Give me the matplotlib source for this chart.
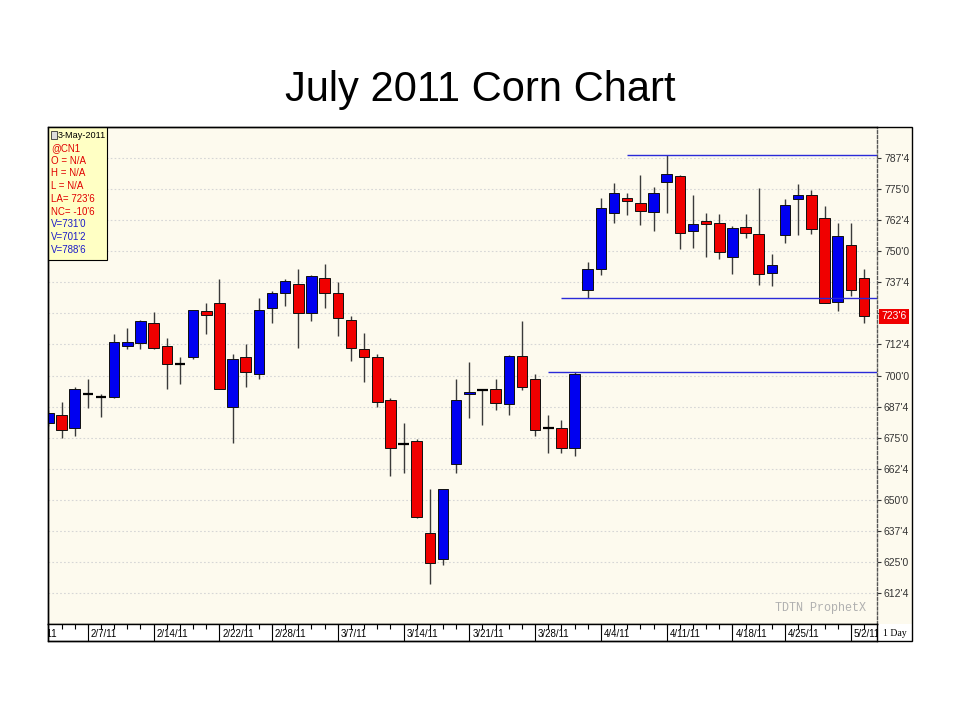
import matplotlib
matplotlib.use("Agg")
import matplotlib.pyplot as plt
import matplotlib.transforms as mtransforms
from matplotlib.patches import Rectangle
from matplotlib.ticker import FuncFormatter
import numpy as np
import pandas as pd

# trading days (exchange closed 2/21 and 4/22); 1/31 and 2/1 sit left of the visible area
holidays = ['2011-02-21', '2011-04-22']
first_visible = 2

opens = [680.75, 684.0, 679.0, 692.5, 691.5, 691.25, 712.0, 713.25, 721.0, 712.0,
         704.5, 707.25, 726.0, 729.0, 687.5, 707.5, 700.75, 727.25, 733.0, 737.0,
         725.0, 739.25, 733.25, 722.5, 710.75, 707.25, 690.0, 672.25, 673.5, 636.5,
         626.0, 664.25, 692.5, 694.0, 694.75, 688.5, 708.0, 698.75, 678.75, 679.0,
         671.0, 734.5, 743.0, 765.5, 771.5, 769.5, 765.75, 778.0, 780.25, 758.25,
         762.25, 761.5, 747.75, 759.75, 757.0, 741.25, 756.5, 771.0, 772.75, 763.5,
         729.75, 752.5, 739.25]
highs = [686.0, 689.25, 695.25, 698.75, 692.75, 716.5, 719.0, 722.25, 725.75, 715.25,
         707.5, 726.5, 729.25, 739.0, 708.75, 712.75, 731.0, 734.0, 739.0, 743.0,
         740.25, 745.0, 737.75, 724.0, 717.25, 708.75, 690.75, 681.0, 674.25, 654.5,
         654.5, 698.75, 705.25, 694.75, 698.75, 708.25, 722.0, 700.5, 684.0, 682.0,
         701.25, 745.75, 771.5, 777.5, 773.5, 780.75, 776.0, 788.75, 780.5, 772.75,
         765.5, 765.0, 760.25, 765.0, 775.5, 749.0, 771.0, 777.0, 774.75, 768.25,
         761.5, 761.5, 743.0]
lows = [679.5, 674.75, 675.5, 686.75, 683.5, 690.75, 710.5, 710.5, 710.75, 694.5,
        696.5, 706.5, 716.5, 694.5, 672.75, 695.25, 698.75, 721.0, 728.0, 711.25,
        722.0, 727.25, 715.75, 706.0, 697.25, 687.25, 659.5, 660.75, 642.75, 616.0,
        623.75, 660.75, 682.75, 680.25, 686.0, 684.0, 694.0, 675.5, 668.75, 669.0,
        667.5, 731.25, 740.5, 761.5, 764.5, 760.5, 758.25, 765.5, 751.0, 751.5,
        747.75, 747.0, 741.0, 755.5, 736.5, 736.0, 753.5, 756.5, 757.0, 729.0,
        726.0, 732.0, 721.25]
closes = [684.75, 678.25, 694.75, 692.5, 691.5, 713.5, 713.5, 722.0, 711.25, 704.5,
          704.5, 726.5, 724.5, 694.75, 706.75, 701.25, 726.5, 733.25, 738.0, 725.25,
          740.0, 733.25, 723.0, 711.25, 707.25, 689.5, 671.0, 672.25, 643.0, 624.5,
          654.25, 690.0, 693.25, 694.0, 688.75, 708.0, 695.5, 678.25, 678.75, 671.0,
          700.75, 743.0, 767.5, 773.5, 770.25, 766.25, 773.5, 781.0, 757.5, 761.0,
          761.0, 749.5, 759.5, 757.5, 741.0, 744.5, 768.5, 772.75, 759.0, 729.25,
          756.25, 734.5, 723.75]

# user-drawn horizontal levels and the day each one starts
level_values = [731.0, 701.25, 788.75]
level_starts = ['2011-03-30', '2011-03-29', '2011-04-06']

info_lines = ["@CN1", "O = N/A", "H = N/A", "L = N/A", "LA= 723'6", "NC= -10'6",
              "V=731'0", "V=701'2", "V=788'6"]
info_colors = ['#e00000'] * 6 + ['#1c1cc8'] * 3

cream = '#fdfaee'
narrow = ['Liberation Sans Narrow', 'Liberation Sans', 'DejaVu Sans']


def eighths(v, pos=None):
    return "%d'%d" % (int(v), int(round((v % 1) * 8)))


days = pd.bdate_range('2011-01-31', '2011-05-03')
days = days[~days.isin(pd.to_datetime(holidays))]
x = np.arange(first_visible, len(days))
o, h, l, c = (np.array(a) for a in (opens, highs, lows, closes))

fig = plt.figure(figsize=(9.6, 7.2), dpi=100)
W, H = 960.0, 720.0

fig.text(0.5, 1 - 90 / H, "July 2011 Corn Chart", ha='center', va='center',
         fontsize=30, family=['Liberation Sans', 'DejaVu Sans'])

# cream strip behind the price scale
fig.add_artist(Rectangle((877 / W, 1 - 624 / H), 35 / W, 497 / H, transform=fig.transFigure,
                         fc=cream, ec='none', zorder=-1))

ax = fig.add_axes([48 / W, 1 - 624 / H, 829 / W, 497 / H])
ax.set_facecolor(cream)
xmin, xmax = first_visible - 0.03, len(days) - 0.01
ax.set_xlim(xmin, xmax)
ax.set_ylim(600, 800)

# candles
ax.vlines(x, l, h, color='#3a3a3a', lw=1, zorder=2)
up = c > o
down = c < o
flat = c == o
body_bottom = np.minimum(o, c)
body_height = np.abs(c - o)
ax.bar(x[up], body_height[up], 0.8, bottom=body_bottom[up], color='#0000f0',
       edgecolor='#101010', lw=0.7, zorder=3)
ax.bar(x[down], body_height[down], 0.8, bottom=body_bottom[down], color='#f00000',
       edgecolor='#101010', lw=0.7, zorder=3)
ax.hlines(c[flat], x[flat] - 0.4, x[flat] + 0.4, color='black', lw=1.6, zorder=3)

# level lines
for val, start in zip(level_values, level_starts):
    xs = days.get_loc(pd.Timestamp(start))
    ax.hlines(val, xs, xmax, color='#2a2ad8', lw=1, zorder=4)

# price scale on the right; the 725'0 label sits under the last-price tag
last = closes[-1]
yt = np.arange(612.5, 800, 12.5)
ax.set_xticks([])
ax.yaxis.tick_right()
ax.set_yticks(yt)
ax.set_yticklabels(['' if abs(v - last) < 5 else eighths(v) for v in yt])
ax.tick_params(axis='y', direction='out', length=3, width=0.8, color='#333333',
               labelsize=7.5, labelcolor='#333333', pad=2)
for t in ax.get_yticklabels():
    t.set_family(narrow)
ax.grid(axis='y', color='#d6d6d6', linestyle=(0, (1.5, 2)), lw=0.8)
ax.set_axisbelow(True)
for side in ['left', 'top', 'bottom']:
    ax.spines[side].set_color('black')
    ax.spines[side].set_linewidth(1)
ax.spines['right'].set_linestyle((0, (2, 1.5)))
ax.spines['right'].set_color('#555555')
ax.spines['right'].set_linewidth(1)

# last price tag
ax.annotate(eighths(last), xy=(1, last), xycoords=('axes fraction', 'data'),
            xytext=(3, 0), textcoords='offset points', ha='left', va='center',
            fontsize=7.5, color='white', family=narrow, annotation_clip=False,
            bbox=dict(boxstyle='square,pad=0.25', fc='#f00000', ec='none'))

# quote box
ax.add_patch(Rectangle((0, 0.732), 0.0712, 0.268, transform=ax.transAxes,
                       fc='#ffffc4', ec='black', lw=0.8, zorder=6))
ax.add_patch(Rectangle((0.0036, 1 - 12 / 497), 0.0075, 8 / 497, transform=ax.transAxes,
                       fc='#dddddd', ec='#333333', lw=0.6, zorder=7))
ax.text(10 / 829, 1 - 8 / 497, days[-1].strftime('%-d-%b-%Y'), transform=ax.transAxes,
        fontsize=6.6, va='center', ha='left', family=narrow, zorder=7)
for k, (txt, col) in enumerate(zip(info_lines, info_colors)):
    ax.text(3 / 829, 1 - (21 + 12.7 * k) / 497, txt, transform=ax.transAxes, fontsize=7,
            va='center', ha='left', color=col, family=narrow, zorder=7)

ax.text(0.987, 0.02, "TDTN ProphetX", transform=ax.transAxes, ha='right', va='bottom',
        fontsize=8.5, color='#b0b0b0', family=['Liberation Mono', 'DejaVu Sans Mono'])

# date strip
strip = fig.add_axes([48 / W, 1 - 641 / H, 829 / W, 17 / H])
strip.set_xlim(xmin, xmax)
strip.set_ylim(0, 1)
strip.set_xticks([])
strip.set_yticks([])
for s in strip.spines.values():
    s.set_color('black')
    s.set_linewidth(1)
idx = np.arange(len(days))
week_start = np.r_[True, days.weekday[1:] < days.weekday[:-1]]
strip.vlines(idx, 0.72, 1, color='black', lw=0.8)
strip.vlines(idx[week_start], 0, 1, color='black', lw=0.8)
offset = mtransforms.offset_copy(strip.transData, fig=fig, x=3, y=0, units='dots')
for i in idx[week_start]:
    d = days[i]
    strip.text(i, 0.4, '%d/%d/%s' % (d.month, d.day, d.strftime('%y')), transform=offset,
               fontsize=7, va='center', ha='left', family=narrow, clip_on=True)

fig.text((877 + 912) / 2 / W, 1 - 633 / H, "1 Day", ha='center', va='center', fontsize=7,
         family=['Liberation Serif', 'DejaVu Serif'])

# outer frame
fig.add_artist(Rectangle((48 / W, 1 - 641 / H), 864 / W, 514 / H, transform=fig.transFigure,
                         fill=False, ec='black', lw=1, zorder=10))

fig.savefig('out.png', dpi=100)
